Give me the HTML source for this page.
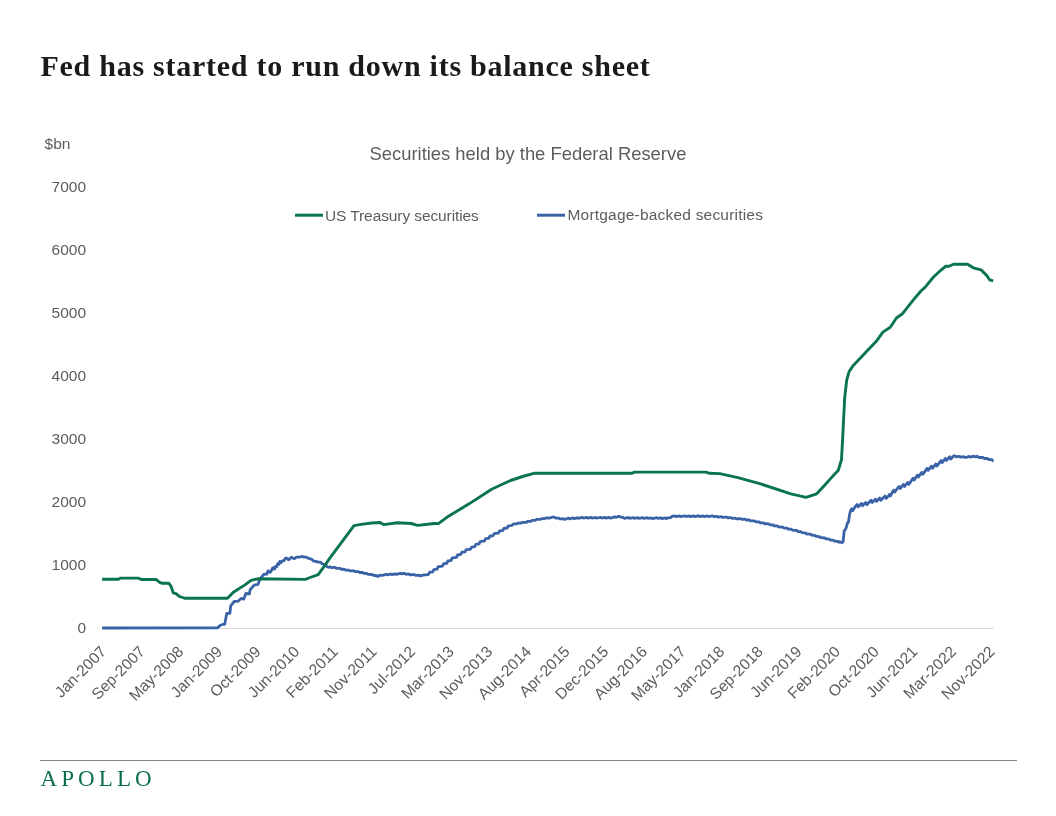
<!DOCTYPE html>
<html><head><meta charset="utf-8"><style>
html,body{margin:0;padding:0;background:#fff;}
body{width:1056px;height:816px;overflow:hidden;position:relative;}
svg{position:absolute;left:0;top:0;will-change:transform;}
.t{font-family:"Liberation Serif",serif;font-weight:bold;fill:#1a1a1a;}
.s{font-family:"Liberation Sans",sans-serif;fill:#5c5c5c;}
</style></head><body>
<svg width="1056" height="816" viewBox="0 0 1056 816">
<text class="t" x="40.5" y="75.7" font-size="30" letter-spacing="0.74">Fed has started to run down its balance sheet</text>
<g class="s" font-size="15">
<text x="44.6" y="148.8" font-size="15.5">$bn</text>
<text x="369.5" y="159.7" font-size="18.4">Securities held by the Federal Reserve</text>
<text x="325" y="220.5" font-size="15.5" letter-spacing="-0.1">US Treasury securities</text>
<text x="567.5" y="220.4" font-size="15.5" letter-spacing="0.2">Mortgage-backed securities</text>
<text transform="translate(86,633.20) scale(1,1.0)" text-anchor="end" font-size="15.5">0</text>
<text transform="translate(86,570.20) scale(1,1.0)" text-anchor="end" font-size="15.5">1000</text>
<text transform="translate(86,507.20) scale(1,1.0)" text-anchor="end" font-size="15.5">2000</text>
<text transform="translate(86,444.20) scale(1,1.0)" text-anchor="end" font-size="15.5">3000</text>
<text transform="translate(86,381.20) scale(1,1.0)" text-anchor="end" font-size="15.5">4000</text>
<text transform="translate(86,318.20) scale(1,1.0)" text-anchor="end" font-size="15.5">5000</text>
<text transform="translate(86,255.20) scale(1,1.0)" text-anchor="end" font-size="15.5">6000</text>
<text transform="translate(86,192.20) scale(1,1.0)" text-anchor="end" font-size="15.5">7000</text>

<text transform="translate(107.20,652.6) rotate(-45)" text-anchor="end" font-size="15.6">Jan-2007</text>
<text transform="translate(145.83,652.6) rotate(-45)" text-anchor="end" font-size="15.6">Sep-2007</text>
<text transform="translate(184.46,652.6) rotate(-45)" text-anchor="end" font-size="15.6">May-2008</text>
<text transform="translate(223.09,652.6) rotate(-45)" text-anchor="end" font-size="15.6">Jan-2009</text>
<text transform="translate(261.72,652.6) rotate(-45)" text-anchor="end" font-size="15.6">Oct-2009</text>
<text transform="translate(300.35,652.6) rotate(-45)" text-anchor="end" font-size="15.6">Jun-2010</text>
<text transform="translate(338.98,652.6) rotate(-45)" text-anchor="end" font-size="15.6">Feb-2011</text>
<text transform="translate(377.61,652.6) rotate(-45)" text-anchor="end" font-size="15.6">Nov-2011</text>
<text transform="translate(416.24,652.6) rotate(-45)" text-anchor="end" font-size="15.6">Jul-2012</text>
<text transform="translate(454.87,652.6) rotate(-45)" text-anchor="end" font-size="15.6">Mar-2013</text>
<text transform="translate(493.50,652.6) rotate(-45)" text-anchor="end" font-size="15.6">Nov-2013</text>
<text transform="translate(532.13,652.6) rotate(-45)" text-anchor="end" font-size="15.6">Aug-2014</text>
<text transform="translate(570.76,652.6) rotate(-45)" text-anchor="end" font-size="15.6">Apr-2015</text>
<text transform="translate(609.39,652.6) rotate(-45)" text-anchor="end" font-size="15.6">Dec-2015</text>
<text transform="translate(648.02,652.6) rotate(-45)" text-anchor="end" font-size="15.6">Aug-2016</text>
<text transform="translate(686.65,652.6) rotate(-45)" text-anchor="end" font-size="15.6">May-2017</text>
<text transform="translate(725.28,652.6) rotate(-45)" text-anchor="end" font-size="15.6">Jan-2018</text>
<text transform="translate(763.91,652.6) rotate(-45)" text-anchor="end" font-size="15.6">Sep-2018</text>
<text transform="translate(802.54,652.6) rotate(-45)" text-anchor="end" font-size="15.6">Jun-2019</text>
<text transform="translate(841.17,652.6) rotate(-45)" text-anchor="end" font-size="15.6">Feb-2020</text>
<text transform="translate(879.80,652.6) rotate(-45)" text-anchor="end" font-size="15.6">Oct-2020</text>
<text transform="translate(918.43,652.6) rotate(-45)" text-anchor="end" font-size="15.6">Jun-2021</text>
<text transform="translate(957.06,652.6) rotate(-45)" text-anchor="end" font-size="15.6">Mar-2022</text>
<text transform="translate(995.69,652.6) rotate(-45)" text-anchor="end" font-size="15.6">Nov-2022</text>

</g>
<line x1="295" y1="215.2" x2="323" y2="215.2" stroke="#0a744f" stroke-width="3"/>
<line x1="537" y1="215.2" x2="565" y2="215.2" stroke="#3a62a6" stroke-width="3"/>
<line x1="102" y1="628.5" x2="994" y2="628.5" stroke="#d9d9d9" stroke-width="1"/>
<polyline points="102.10,628.00 217.50,627.90 220.70,625.00 224.70,624.20 226.70,613.40 229.90,613.40 230.70,605.80 234.20,601.50 238.20,601.10 241.40,598.30 243.80,599.10 245.80,593.50 249.40,593.90 250.20,589.50 254.20,585.10 258.10,584.30 259.70,579.60 263.70,574.40 266.90,574.00 268.00,570.85 269.08,571.79 270.15,572.31 271.23,570.91 272.31,568.38 273.38,567.66 274.46,569.13 275.54,566.45 276.62,566.85 277.69,563.80 278.77,564.33 279.85,561.41 280.92,562.69 282.00,561.39 283.08,560.64 284.15,560.69 285.23,558.31 286.31,558.02 287.39,558.62 288.46,559.75 289.54,558.99 290.62,557.83 291.69,557.35 292.77,558.02 293.85,558.58 294.92,558.43 296.00,557.38 297.08,557.03 298.16,557.23 299.23,557.06 300.31,556.85 301.39,556.64 302.46,556.43 303.54,557.13 304.62,557.06 305.69,557.15 306.77,557.24 307.85,558.23 308.93,558.36 310.00,558.75 311.08,559.14 312.16,559.53 313.23,560.83 314.31,561.22 315.39,561.40 316.46,561.34 317.54,562.17 318.62,562.11 319.70,562.04 320.77,562.25 321.85,563.61 322.93,564.07 324.00,564.52 325.08,564.98 326.16,565.44 327.23,566.79 328.31,567.24 329.39,567.10 330.47,566.96 331.54,567.71 332.62,567.57 333.70,567.42 334.77,567.28 335.85,568.19 336.93,568.24 338.00,568.29 339.08,568.34 340.16,568.40 341.24,569.29 342.31,569.27 343.39,569.25 344.47,569.22 345.54,570.10 346.62,570.08 347.70,570.06 348.77,570.03 349.85,570.91 350.93,570.89 352.01,570.87 353.08,570.84 354.16,570.82 355.24,571.70 356.31,571.68 357.39,571.65 358.47,571.63 359.54,572.51 360.62,572.49 361.70,572.48 362.78,572.51 363.85,573.43 364.93,573.46 366.01,573.48 367.08,573.51 368.16,574.43 369.24,574.46 370.31,574.48 371.39,574.51 372.47,574.54 373.55,575.46 374.62,575.49 375.70,575.51 376.78,575.54 377.85,576.46 378.93,575.77 380.01,575.14 381.08,575.27 382.16,575.39 383.24,575.11 384.32,574.82 385.39,574.54 386.47,574.26 387.55,574.87 388.62,574.59 389.70,574.31 390.78,574.02 391.85,574.64 392.93,574.36 394.01,574.08 395.09,573.79 396.16,574.41 397.24,574.13 398.32,573.84 399.39,573.56 400.47,573.28 401.55,573.89 402.62,573.61 403.70,573.48 404.78,573.41 405.86,574.24 406.93,574.16 408.01,574.09 409.09,574.02 410.16,574.85 411.24,574.77 412.32,574.70 413.39,574.63 414.47,574.56 415.55,575.38 416.63,575.31 417.70,575.24 418.78,575.17 419.86,575.94 420.93,575.65 422.01,575.35 423.09,575.06 424.16,574.80 425.24,574.89 426.32,574.78 427.40,574.55 428.47,574.48 429.55,572.26 430.63,572.14 431.70,572.02 432.78,571.92 433.86,569.57 434.93,569.42 436.01,569.28 437.09,569.14 438.17,566.71 439.24,566.58 440.32,566.45 441.40,566.32 442.47,566.18 443.55,563.75 444.63,563.62 445.70,563.49 446.78,563.36 447.86,560.91 448.94,560.78 450.01,560.64 451.09,560.50 452.17,557.98 453.24,557.84 454.32,557.70 455.40,557.56 456.47,557.42 457.55,554.91 458.63,554.76 459.71,554.59 460.78,554.48 461.86,552.24 462.94,552.14 464.01,552.02 465.09,551.90 466.17,549.72 467.24,549.60 468.32,549.48 469.40,549.36 470.48,549.25 471.55,547.05 472.63,546.94 473.71,546.81 474.78,546.68 475.86,544.32 476.94,544.19 478.01,544.06 479.09,543.93 480.17,541.56 481.25,541.43 482.32,541.30 483.40,541.17 484.48,541.03 485.55,538.68 486.63,538.56 487.71,538.45 488.78,538.33 489.86,536.11 490.94,535.99 492.02,535.87 493.09,535.75 494.17,533.54 495.25,533.42 496.32,533.30 497.40,533.17 498.48,533.04 499.55,530.86 500.63,530.75 501.71,530.63 502.79,530.52 503.86,528.38 504.94,528.26 506.02,528.15 507.09,528.03 508.17,525.90 509.25,525.78 510.32,525.66 511.40,525.46 512.48,525.14 513.56,523.83 514.63,523.92 515.71,523.95 516.79,523.97 517.86,523.09 518.94,523.11 520.02,523.13 521.09,523.16 522.17,522.28 523.25,522.30 524.33,522.32 525.40,522.34 526.48,522.35 527.56,521.43 528.63,521.41 529.71,521.39 530.79,521.37 531.86,520.45 532.94,520.43 534.02,520.41 535.10,520.39 536.17,519.47 537.25,519.45 538.33,519.43 539.40,519.41 540.48,519.46 541.56,518.60 542.63,518.65 543.71,518.70 544.79,518.74 545.87,517.89 546.94,517.93 548.02,517.98 549.10,518.03 550.17,517.96 551.25,517.59 552.33,517.22 553.40,517.13 554.48,517.13 555.56,518.04 556.64,518.04 557.71,518.05 558.79,518.05 559.87,518.96 560.94,518.96 562.02,518.97 563.10,518.73 564.17,519.35 565.25,519.07 566.33,518.78 567.41,518.50 568.48,518.21 569.56,518.83 570.64,518.55 571.71,518.26 572.79,517.98 573.87,518.59 574.94,518.31 576.02,518.03 577.10,517.74 578.18,518.36 579.25,518.08 580.33,517.86 581.41,517.64 582.48,517.42 583.56,518.10 584.64,517.89 585.71,517.67 586.79,517.45 587.87,518.13 588.95,517.91 590.02,517.70 591.10,517.48 592.18,518.16 593.25,517.94 594.33,517.72 595.41,517.51 596.48,518.19 597.56,517.97 598.64,517.75 599.72,517.54 600.79,517.32 601.87,518.00 602.95,517.78 604.02,517.56 605.10,517.35 606.18,518.03 607.25,517.81 608.33,517.59 609.41,517.37 610.49,518.06 611.56,517.84 612.64,517.49 613.72,517.15 614.79,516.80 615.87,517.35 616.95,517.00 618.02,516.66 619.10,516.31 620.18,516.91 621.26,517.14 622.33,517.38 623.41,517.61 624.49,518.35 625.56,518.15 626.64,517.95 627.72,517.75 628.79,517.54 629.87,518.24 630.95,518.04 632.03,517.84 633.10,517.64 634.18,518.34 635.26,518.14 636.33,517.94 637.41,517.74 638.49,518.44 639.56,518.24 640.64,518.04 641.72,517.84 642.80,517.64 643.87,518.33 644.95,518.13 646.03,517.93 647.10,517.73 648.18,518.43 649.26,518.23 650.33,518.03 651.41,517.83 652.49,518.53 653.57,518.33 654.64,518.13 655.72,517.93 656.80,517.73 657.87,518.43 658.95,518.22 660.03,518.02 661.10,517.82 662.18,518.52 663.26,518.32 664.34,518.12 665.41,517.92 666.49,518.62 667.57,517.98 668.64,517.86 669.72,517.72 670.80,517.60 671.87,516.32 672.95,516.14 674.03,516.07 675.11,515.86 676.18,516.56 677.26,516.35 678.34,516.14 679.41,515.93 680.49,516.62 681.57,516.42 682.64,516.21 683.72,516.00 684.80,515.79 685.88,516.48 686.95,516.28 688.03,516.07 689.11,515.86 690.18,516.55 691.26,516.34 692.34,516.14 693.41,515.93 694.49,516.62 695.57,516.41 696.65,516.20 697.72,516.00 698.80,515.79 699.88,516.48 700.95,516.27 702.03,516.06 703.11,515.86 704.18,516.55 705.26,516.34 706.34,516.13 707.42,515.92 708.49,516.62 709.57,516.41 710.65,516.22 711.72,516.08 712.80,515.94 713.88,516.70 714.95,516.56 716.03,516.43 717.11,516.29 718.19,517.05 719.26,516.91 720.34,516.78 721.42,516.64 722.49,517.40 723.57,517.30 724.65,517.21 725.72,517.12 726.80,517.03 727.88,517.84 728.96,517.75 730.03,517.66 731.11,517.57 732.19,518.38 733.26,518.29 734.34,518.20 735.42,518.11 736.49,518.92 737.57,518.83 738.65,518.74 739.73,518.65 740.80,518.56 741.88,519.37 742.96,519.28 744.03,519.19 745.11,519.10 746.19,519.98 747.26,519.99 748.34,520.00 749.42,520.01 750.50,520.92 751.57,520.93 752.65,520.94 753.73,520.95 754.80,520.96 755.88,521.87 756.96,521.88 758.03,521.89 759.11,521.90 760.19,522.81 761.27,522.82 762.34,522.83 763.42,522.84 764.50,523.75 765.57,523.76 766.65,523.77 767.73,523.78 768.80,523.81 769.88,524.75 770.96,524.80 772.04,524.84 773.11,524.88 774.19,525.83 775.27,525.87 776.34,525.91 777.42,525.96 778.50,526.90 779.57,526.94 780.65,526.99 781.73,527.03 782.81,527.07 783.88,528.02 784.96,528.06 786.04,528.10 787.11,528.15 788.19,529.09 789.27,529.14 790.34,529.18 791.42,529.24 792.50,530.21 793.58,530.29 794.65,530.37 795.73,530.44 796.81,530.52 797.88,531.50 798.96,531.57 800.04,531.65 801.11,531.73 802.19,532.70 803.27,532.78 804.35,532.85 805.42,532.93 806.50,533.91 807.58,533.98 808.65,534.06 809.73,534.14 810.81,534.21 811.88,535.19 812.96,535.27 814.04,535.34 815.12,535.42 816.19,536.39 817.27,536.47 818.35,536.55 819.42,536.62 820.50,537.60 821.58,537.67 822.65,537.74 823.73,537.80 824.81,537.87 825.89,538.83 826.96,538.90 828.04,538.96 829.12,539.03 830.19,539.99 831.27,540.06 832.35,540.12 833.42,540.19 834.50,541.15 835.58,541.22 836.66,541.28 837.73,541.35 838.81,542.31 839.89,541.71 840.96,542.27 842.04,542.73 843.12,541.70 844.19,530.80 845.27,529.73 846.35,527.18 847.43,522.92 848.50,522.06 849.58,514.33 850.66,510.57 851.73,508.83 852.81,510.48 853.89,508.74 854.96,506.99 856.04,505.62 857.12,504.51 858.20,506.80 859.27,505.68 860.35,504.57 861.43,503.45 862.50,505.74 863.58,504.62 864.66,503.51 865.73,502.40 866.81,504.68 867.89,503.57 868.97,502.45 870.04,501.34 871.12,500.21 872.20,502.49 873.27,501.37 874.35,500.25 875.43,499.13 876.50,501.41 877.58,500.29 878.66,499.17 879.74,498.05 880.81,500.33 881.89,499.21 882.97,498.09 884.04,497.04 885.12,496.00 886.20,498.36 887.27,497.32 888.35,496.28 889.43,494.40 890.51,495.79 891.58,493.78 892.66,491.76 893.74,490.16 894.81,492.03 895.89,490.49 896.97,488.95 898.04,487.68 899.12,486.45 900.20,488.59 901.28,487.22 902.35,485.84 903.43,484.47 904.51,486.49 905.58,485.12 906.66,483.74 907.74,482.37 908.81,484.39 909.89,482.93 910.97,481.33 912.05,479.74 913.12,478.14 914.20,479.94 915.28,478.34 916.35,476.74 917.43,475.14 918.51,476.94 919.58,475.41 920.66,473.92 921.74,472.43 922.82,474.35 923.89,472.86 924.97,471.37 926.05,469.88 927.12,468.39 928.20,470.30 929.28,468.91 930.35,467.53 931.43,466.15 932.51,468.18 933.59,466.80 934.66,465.43 935.74,464.05 936.82,466.08 937.89,464.70 938.97,463.32 940.05,461.94 941.12,460.56 942.20,462.58 943.28,461.20 944.36,459.81 945.43,458.43 946.51,460.45 947.59,459.13 948.66,457.97 949.74,456.82 950.82,459.06 951.89,457.91 952.97,456.75 954.05,455.62 955.13,456.00 956.20,456.83 957.28,456.66 958.36,456.49 959.43,456.32 960.51,457.15 961.59,456.98 962.66,456.81 963.74,456.64 964.82,457.47 965.90,457.30 966.97,457.05 968.05,456.74 969.13,456.42 970.20,457.11 971.28,456.80 972.36,456.49 973.43,456.18 974.51,456.87 975.59,456.56 976.67,456.50 977.74,456.50 978.82,457.49 979.90,457.49 980.97,457.49 982.05,457.49 983.13,457.49 984.20,458.49 985.28,458.50 986.36,458.51 987.44,458.51 988.51,459.52 989.59,459.52 990.67,459.53 991.74,459.54 992.82,460.54 993.50,460.20" fill="none" stroke="#3a62a6" stroke-width="2.8" stroke-linejoin="round"/>
<polyline points="102.10,579.30 118.50,579.30 120.60,578.10 138.40,578.10 141.20,579.50 156.10,579.50 159.70,582.30 162.50,583.30 168.90,583.30 171.00,586.20 173.20,592.80 176.00,593.70 179.50,596.50 184.50,598.20 227.50,598.30 233.40,592.30 244.60,585.10 251.00,580.40 257.30,578.80 305.40,579.40 308.80,578.00 318.20,574.60 323.60,567.20 330.00,557.90 354.00,525.60 361.30,524.40 371.70,523.00 380.00,522.50 383.60,524.60 397.70,522.70 411.30,523.50 417.50,525.40 434.20,523.50 438.40,523.60 448.50,516.20 468.70,504.10 491.60,489.30 510.50,480.50 522.60,476.50 534.80,473.10 632.10,473.30 634.50,472.10 706.10,472.10 709.40,473.30 719.70,473.60 737.90,477.60 760.60,483.90 790.90,493.80 806.10,497.30 816.70,493.80 825.80,483.90 830.30,478.90 838.30,470.20 841.50,459.80 843.10,429.60 844.70,397.70 846.70,380.00 849.20,371.30 853.50,365.20 867.00,351.10 876.80,340.70 882.90,332.10 890.30,327.20 896.40,318.00 902.50,313.70 913.60,299.60 920.90,291.00 925.00,287.30 933.50,277.00 939.20,271.70 945.60,266.30 949.10,266.20 953.40,264.20 967.60,264.20 973.30,267.80 981.10,269.90 986.80,275.60 989.60,279.80 993.20,280.90" fill="none" stroke="#0a744f" stroke-width="2.9" stroke-linejoin="round"/>
<line x1="40" y1="760.5" x2="1017" y2="760.5" stroke="#888" stroke-width="1"/>
<text x="40.5" y="785.5" font-family="Liberation Serif" font-size="23" fill="#0b6e4f" letter-spacing="4.1">APOLLO</text>
</svg>
</body></html>
